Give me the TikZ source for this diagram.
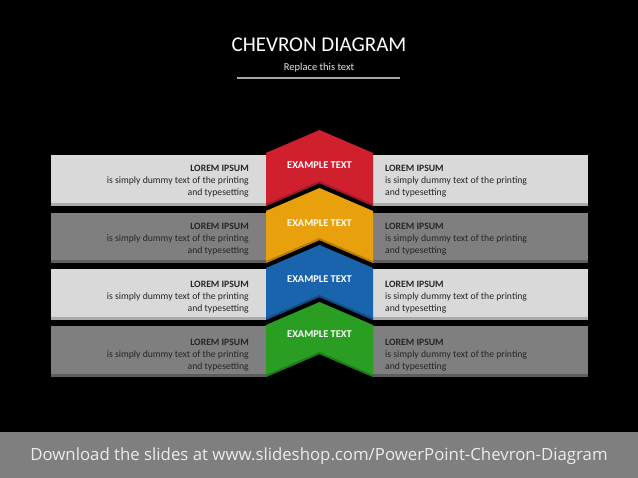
\documentclass[tikz,border=0pt]{standalone}
\usepackage{fontspec}
\setmainfont{Carlito}
\newfontfamily\bandfont{Open Sans}
\definecolor{cred}{HTML}{D0202E}
\definecolor{credd}{HTML}{A5192A}
\definecolor{cyel}{HTML}{E9A00D}
\definecolor{cyeld}{HTML}{B57C0A}
\definecolor{cblu}{HTML}{1A64AE}
\definecolor{cblud}{HTML}{134C86}
\definecolor{cgrn}{HTML}{2A9E22}
\definecolor{cgrnd}{HTML}{1F7A19}
\definecolor{barlight}{HTML}{D9D9D9}
\definecolor{barlightd}{HTML}{ABABAB}
\definecolor{bardark}{HTML}{7F7F7F}
\definecolor{bardarkd}{HTML}{5E5E5E}
\definecolor{txtdark}{HTML}{262626}
\tikzset{
  lefttxt/.style={anchor=north east, align=right, inner sep=0pt, font=\fontsize{9.7}{12}\selectfont, text=txtdark},
  righttxt/.style={anchor=north west, align=left, inner sep=0pt, font=\fontsize{9.7}{12}\selectfont, text=txtdark},
  chevtxt/.style={inner sep=0pt, font=\fontsize{10.4}{12}\selectfont\bfseries, text=white},
}
\newcommand{\chevron}[4]{% ys, yb, fill, dark
  \fill[#3] (266,#1) -- (319.5,#1-23) -- (373,#1) -- (373,#2) -- (319.5,#2-23) -- (266,#2) -- cycle;
  \fill[#4] (266,#2) -- (319.5,#2-23) -- (373,#2) -- (373,#2-2) -- (319.5,#2-25) -- (266,#2-2) -- cycle;
}
\newcommand{\barpair}[4]{% top, bottom, fill, dark
  \fill[#3] (51,#1) rectangle (266,#2);
  \fill[#4] (51,#2-3) rectangle (266,#2);
  \fill[#3] (373,#1) rectangle (588,#2);
  \fill[#4] (373,#2-3) rectangle (588,#2);
}
\begin{document}
\begin{tikzpicture}[x=1pt,y=-1pt]
\fill[black] (0,0) rectangle (638,478);
\useasboundingbox (0,0) rectangle (638,478);
% title
\node[text=white, font=\fontsize{21}{24}\selectfont] (title) at (319,45) {CHEVRON DIAGRAM};
\node[text=white!90!black, font=\fontsize{10.5}{12}\selectfont] (sub) at (319,68) {Replace this text};
\coordinate (la) at (237,78);
\coordinate (lb) at (400,78);
\draw[line width=1.2pt, color=white!65!black] (la) -- (lb);
% bars
\barpair{155}{206}{barlight}{barlightd}
\barpair{213}{263}{bardark}{bardarkd}
\barpair{269}{320}{barlight}{barlightd}
\barpair{326}{377}{bardark}{bardarkd}
% chevrons
\chevron{153}{206}{cred}{credd}
\chevron{211}{263}{cyel}{cyeld}
\chevron{268}{320}{cblu}{cblud}
\chevron{325}{377}{cgrn}{cgrnd}
% chevron texts
\node[chevtxt] (c1) at (319.5,165) {EXAMPLE TEXT};
\node[chevtxt] (c2) at (319.5,223) {EXAMPLE TEXT};
\node[chevtxt] (c3) at (319.5,279) {EXAMPLE TEXT};
\node[chevtxt] (c4) at (319.5,334) {EXAMPLE TEXT};
% side texts
\node[lefttxt] (l1) at (249,165) {\textbf{LOREM IPSUM}\\is simply dummy text of the printing\\and typesetting};
\node[lefttxt] (l2) at (249,223) {\textbf{LOREM IPSUM}\\is simply dummy text of the printing\\and typesetting};
\node[lefttxt] (l3) at (249,281) {\textbf{LOREM IPSUM}\\is simply dummy text of the printing\\and typesetting};
\node[lefttxt] (l4) at (249,339) {\textbf{LOREM IPSUM}\\is simply dummy text of the printing\\and typesetting};
\node[righttxt] (r1) at (385,165) {\textbf{LOREM IPSUM}\\is simply dummy text of the printing\\and typesetting};
\node[righttxt] (r2) at (385,223) {\textbf{LOREM IPSUM}\\is simply dummy text of the printing\\and typesetting};
\node[righttxt] (r3) at (385,281) {\textbf{LOREM IPSUM}\\is simply dummy text of the printing\\and typesetting};
\node[righttxt] (r4) at (385,339) {\textbf{LOREM IPSUM}\\is simply dummy text of the printing\\and typesetting};
% bottom band
\fill[bardark] (0,432) rectangle (638,478);
\node[text=white!92!black, font=\bandfont\fontsize{16.8}{19}\selectfont] (band) at (319,456) {Download the slides at www.slideshop.com/PowerPoint-Chevron-Diagram};
\end{tikzpicture}
\end{document}
